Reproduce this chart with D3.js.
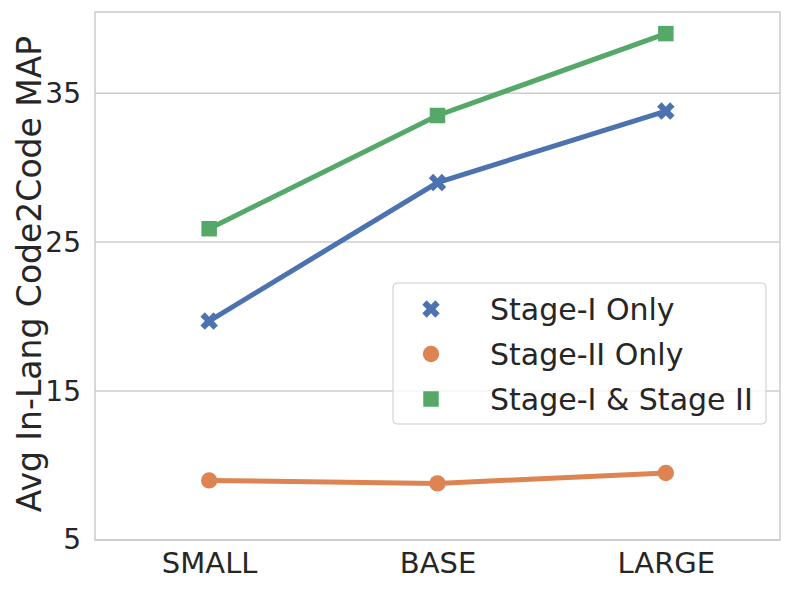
<!DOCTYPE html>
<html>
<head>
<meta charset="utf-8">
<script src="https://cdn.jsdelivr.net/npm/d3@7"></script>
<style>
  body { margin: 0; background: #fff; }
  text { font-family: "DejaVu Sans", sans-serif; fill: #262626; }
</style>
</head>
<body>
<div id="chart"></div>
<script>
// model sizes on the x axis
let sizes = ["SMALL", "BASE", "LARGE"];
let series_names = ["Stage-I Only", "Stage-II Only", "Stage-I & Stage II"];
let stage1_only = [19.7, 29.0, 33.8];
let stage2_only = [9.0, 8.8, 9.5];
let stage1_and_2 = [25.9, 33.5, 39.0];
let y_ticks = [5, 15, 25, 35];

let colors = ["#4C72B0", "#DD8452", "#55A868"];
let shapes = [d3.symbolCross, d3.symbolCircle, d3.symbolSquare];

let series = [stage1_only, stage2_only, stage1_and_2].map((vals, i) => ({
  name: series_names[i],
  color: colors[i],
  shape: shapes[i],
  values: vals.map((v, j) => ({ size: sizes[j], value: v })),
}));

let width = 789, height = 592;
let margin = { top: 12, right: 9, bottom: 52, left: 95 };

let svg = d3
  .select("#chart")
  .append("svg")
  .attr("width", width)
  .attr("height", height);

let x = d3
  .scalePoint()
  .domain(sizes)
  .range([margin.left, width - margin.right])
  .padding(0.5);

let y = d3
  .scaleLinear()
  .domain([5, 40.45])
  .range([height - margin.bottom, margin.top]);

// marker area per shape
function markerSize(shape) {
  if (shape === d3.symbolCross) return 190;
  if (shape === d3.symbolCircle) return 210;
  return 240;
}

// grid lines
svg
  .append("g")
  .selectAll("line")
  .data(y_ticks)
  .enter()
  .append("line")
  .attr("x1", margin.left)
  .attr("x2", width - margin.right)
  .attr("y1", (d) => y(d))
  .attr("y2", (d) => y(d))
  .attr("stroke", "#cccccc")
  .attr("stroke-width", 1.5);

// frame
svg
  .append("rect")
  .attr("x", margin.left)
  .attr("y", margin.top)
  .attr("width", width - margin.left - margin.right)
  .attr("height", height - margin.top - margin.bottom)
  .attr("fill", "none")
  .attr("stroke", "#cccccc")
  .attr("stroke-width", 1.5);

// axes
let yAxis = svg
  .append("g")
  .attr("transform", `translate(${margin.left},0)`)
  .call(d3.axisLeft(y).tickValues(y_ticks).tickSize(0).tickPadding(14));
yAxis.select(".domain").remove();
yAxis.selectAll("text").attr("font-size", 28).style("font-family", "DejaVu Sans");

let xAxis = svg
  .append("g")
  .attr("transform", `translate(0,${height - margin.bottom})`)
  .call(d3.axisBottom(x).tickSize(0).tickPadding(12));
xAxis.select(".domain").remove();
xAxis.selectAll("text").attr("font-size", 29).style("font-family", "DejaVu Sans");

svg
  .append("text")
  .attr("transform", `translate(41,${(margin.top + height - margin.bottom) / 2 - 2}) rotate(-90)`)
  .attr("text-anchor", "middle")
  .attr("font-size", 33)
  .text("Avg In-Lang Code2Code MAP");

// lines + markers
let line = d3
  .line()
  .x((d) => x(d.size))
  .y((d) => y(d.value));

series.forEach((s) => {
  svg
    .append("path")
    .datum(s.values)
    .attr("d", line)
    .attr("fill", "none")
    .attr("stroke", s.color)
    .attr("stroke-width", 5);

  svg
    .append("g")
    .selectAll("path")
    .data(s.values)
    .enter()
    .append("path")
    .attr("d", d3.symbol().type(s.shape).size(markerSize(s.shape)))
    .attr("transform", (d) =>
      `translate(${x(d.size)},${y(d.value)})` + (s.shape === d3.symbolCross ? " rotate(45)" : "")
    )
    .attr("fill", s.color);
});

// legend
let legend = svg.append("g").attr("transform", "translate(393,283)");
legend
  .append("rect")
  .attr("width", 373)
  .attr("height", 141)
  .attr("rx", 4)
  .attr("fill", "#ffffff")
  .attr("fill-opacity", 0.8)
  .attr("stroke", "#cccccc")
  .attr("stroke-width", 1);

let items = legend
  .selectAll("g")
  .data(series)
  .enter()
  .append("g")
  .attr("transform", (d, i) => `translate(0,${26 + i * 45})`);

items
  .append("path")
  .attr("d", (d) => d3.symbol().type(d.shape).size(markerSize(d.shape))())
  .attr("transform", (d) => "translate(38,0)" + (d.shape === d3.symbolCross ? " rotate(45)" : ""))
  .attr("fill", (d) => d.color);

items
  .append("text")
  .attr("x", 97)
  .attr("dy", "0.35em")
  .attr("font-size", 30)
  .text((d) => d.name);
</script>
</body>
</html>
